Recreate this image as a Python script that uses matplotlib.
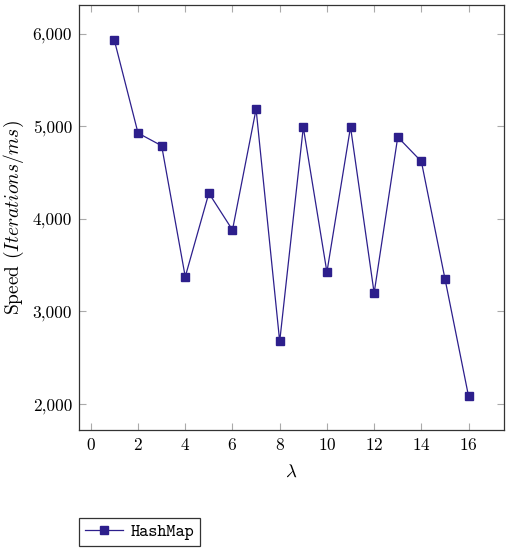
import matplotlib.pyplot as plt
from matplotlib.ticker import FuncFormatter, MultipleLocator

lam = [1, 2, 3, 4, 5, 6, 7, 8, 9, 10, 11, 12, 13, 14, 15, 16]
speed = [5927, 4927, 4790, 3375, 4278, 3880, 5186, 2676, 4989,
         3425, 4993, 3199, 4884, 4620, 3353, 2083]

plt.rcParams["mathtext.fontset"] = "cm"
plt.rcParams["font.family"] = "cmr10"
plt.rcParams["axes.formatter.use_mathtext"] = True

fig = plt.figure(figsize=(5.09, 5.5), dpi=100)
ax = fig.add_axes([79 / 509, 1 - 430 / 550, 425 / 509, 425 / 550])

color = "#2d1f8c"
ax.plot(lam, speed, color=color, lw=0.9, marker="s", ms=5.5,
        mec=color, mfc=color, label="HashMap")

ax.set_xlim(-0.5, 17.5)
ax.set_ylim(1720, 6310)
ax.xaxis.set_major_locator(MultipleLocator(2))
ax.yaxis.set_major_locator(MultipleLocator(1000))
ax.yaxis.set_major_formatter(FuncFormatter(lambda v, p: f"{int(v):,}"))

ax.tick_params(direction="in", top=True, right=True, length=5,
               color="#aaaaaa", labelsize=12.5, pad=5)
for s in ax.spines.values():
    s.set_linewidth(0.9)
    s.set_color("#333333")

ax.set_xlabel(r"$\lambda$", fontsize=13.5, labelpad=7)
ax.set_ylabel(r"Speed $(Iterations/ms)$", fontsize=14, labelpad=5)

leg = fig.legend(loc="lower left", bbox_to_anchor=(79 / 509, 1 - 546 / 550),
                 prop={"family": "cmtt10", "size": 12.5}, frameon=True,
                 fancybox=False, edgecolor="black", handlelength=2.2,
                 borderpad=0.35, handletextpad=0.4, borderaxespad=0)
leg.get_frame().set_linewidth(0.9)

plt.savefig("out.png", dpi=100)
plt.close()
